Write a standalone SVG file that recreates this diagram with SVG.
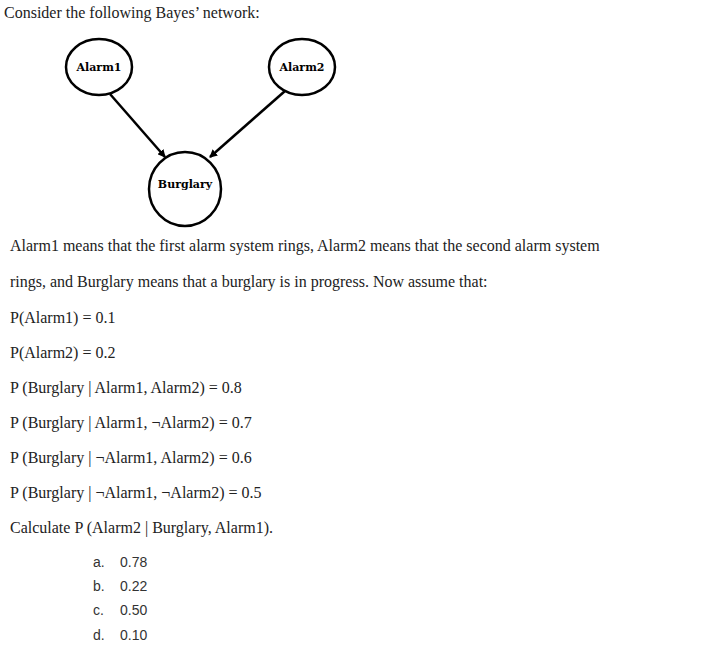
<svg xmlns="http://www.w3.org/2000/svg" width="707" height="649" viewBox="0 0 707 649">
<style>
.t{font-family:"Liberation Serif",serif;font-size:16px;fill:#222}
.o{font-family:"Liberation Sans",sans-serif;font-size:14px;fill:#333}
.n{fill:#fff;stroke:#000;stroke-width:2.5}
.nl{font-family:"DejaVu Serif",serif;font-size:11px;font-weight:bold;text-anchor:middle;fill:#000}
.e{stroke:#000;stroke-width:2.5;fill:none;marker-end:url(#a)}
</style>
<defs><marker id="a" markerWidth="8" markerHeight="8" refX="7" refY="4" orient="auto" markerUnits="userSpaceOnUse"><path d="M0,0L8,4L0,8z" fill="#000"/></marker></defs>
<rect width="707" height="649" fill="#fff"/>
<text class="t" x="4" y="18">Consider the following Bayes’ network:</text>
<g id="edges">
<line class="e" x1="110" y1="94" x2="165" y2="157"/>
<line class="e" x1="285" y1="91" x2="210" y2="157"/>
</g>
<g id="alarm1"><ellipse class="n" cx="99" cy="67" rx="33" ry="28"/><text class="nl" x="99" y="71">Alarm1</text></g>
<g id="alarm2"><ellipse class="n" cx="302" cy="67" rx="33" ry="28"/><text class="nl" x="302" y="71">Alarm2</text></g>
<g id="burglary"><ellipse class="n" cx="185" cy="189" rx="36" ry="37"/><text class="nl" x="185" y="188">Burglary</text></g>
<text class="t" x="10" y="251">Alarm1 means that the first alarm system rings, Alarm2 means that the second alarm system</text>
<text class="t" x="10" y="287">rings, and Burglary means that a burglary is in progress. Now assume that:</text>
<text class="t" x="10" y="323">P(Alarm1) = 0.1</text>
<text class="t" x="10" y="358">P(Alarm2) = 0.2</text>
<text class="t" x="10" y="393">P (Burglary | Alarm1, Alarm2) = 0.8</text>
<text class="t" x="10" y="428">P (Burglary | Alarm1, ¬Alarm2) = 0.7</text>
<text class="t" x="10" y="463">P (Burglary | ¬Alarm1, Alarm2) = 0.6</text>
<text class="t" x="10" y="498">P (Burglary | ¬Alarm1, ¬Alarm2) = 0.5</text>
<text class="t" x="10" y="533">Calculate P (Alarm2 | Burglary, Alarm1).</text>
<text class="o" x="93" y="567">a.</text><text class="o" x="120" y="567">0.78</text>
<text class="o" x="93" y="591">b.</text><text class="o" x="120" y="591">0.22</text>
<text class="o" x="93" y="615">c.</text><text class="o" x="120" y="615">0.50</text>
<text class="o" x="93" y="640">d.</text><text class="o" x="120" y="640">0.10</text>
</svg>
